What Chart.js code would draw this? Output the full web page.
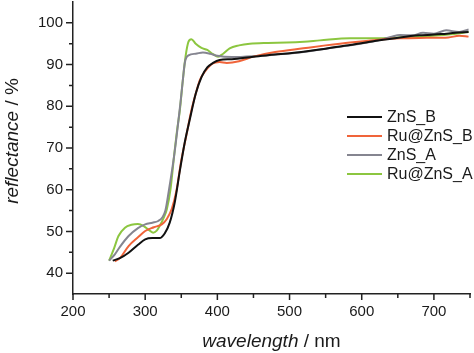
<!DOCTYPE html>
<html>
<head>
<meta charset="utf-8">
<title>reflectance</title>
<script src="https://cdn.jsdelivr.net/npm/chart.js@4/dist/chart.umd.min.js"></script>
<style>
  body { margin: 0; background: #fff; }
</style>
</head>
<body>
<canvas id="myChart" width="474" height="353"></canvas>
<script>
// series labels
const seriesNames = ['ZnS_B', 'Ru@ZnS_B', 'ZnS_A', 'Ru@ZnS_A'];

// ZnS_B
const znsBWl = [255, 265, 277, 290, 300, 310, 320, 327, 334, 341, 348, 355, 362, 370, 378, 386, 394, 403, 420, 450, 480, 519, 550, 584, 620, 653, 680, 710, 730, 748];
const znsBRefl = [43.0, 43.6, 44.9, 46.8, 48.1, 48.4, 48.4, 49.5, 52.1, 57.0, 64.5, 71.5, 77.0, 83.0, 87.0, 89.3, 90.4, 91.1, 91.3, 91.9, 92.4, 93.1, 93.8, 94.7, 95.7, 96.5, 97.0, 97.3, 97.6, 97.8];

// Ru@ZnS_B
const ruZnsBWl = [258, 265, 277, 290, 300, 312, 323, 330, 337, 343, 350, 357, 364, 370, 376, 384, 393, 403, 413, 430, 450, 480, 519, 550, 584, 620, 653, 690, 720, 735, 748];
const ruZnsBRefl = [42.8, 43.6, 46.5, 48.6, 50.1, 51.0, 51.7, 53.0, 55.5, 59.5, 67.0, 73.0, 79.0, 83.0, 86.4, 88.6, 90.2, 90.6, 90.4, 90.8, 91.9, 93.0, 93.9, 94.6, 95.3, 95.9, 96.3, 96.4, 96.5, 96.9, 96.7];

// ZnS_A
const znsAWl = [250, 258, 265, 277, 290, 300, 310, 318, 324, 328, 333, 340, 345, 349, 352, 355, 360, 370, 380, 390, 400, 420, 450, 480, 519, 550, 584, 620, 640, 653, 670, 685, 700, 717, 735, 748];
const znsARefl = [43.0, 44.5, 46.3, 48.9, 50.8, 51.7, 52.1, 52.5, 53.4, 55.0, 60.0, 68.0, 75.0, 81.0, 86.0, 90.5, 92.2, 92.6, 92.9, 92.6, 92.1, 91.8, 92.0, 92.4, 93.0, 93.8, 94.6, 95.7, 96.6, 97.1, 97.0, 97.6, 97.4, 98.2, 97.8, 98.4];

// Ru@ZnS_A
const ruZnsAWl = [250, 257, 263, 272, 281, 290, 298, 304, 311, 316, 320, 325, 330, 335, 340, 344, 348, 352, 356, 360, 364, 370, 378, 386, 394, 401, 408, 417, 430, 445, 470, 496, 520, 542, 584, 620, 653, 690, 720, 748];
const ruZnsARefl = [43.0, 46.0, 48.9, 50.9, 51.6, 51.8, 51.3, 50.5, 49.7, 50.2, 51.3, 53.0, 55.3, 60.0, 68.0, 74.0, 79.0, 86.0, 92.0, 95.5, 96.1, 95.0, 94.0, 93.5, 92.5, 91.9, 92.6, 93.9, 94.6, 95.0, 95.2, 95.3, 95.5, 95.8, 96.3, 96.3, 96.5, 96.8, 97.2, 97.8];

// axis ticks
const xTicks = [200, 300, 400, 500, 600, 700];
const yTicks = [40, 50, 60, 70, 80, 90, 100];

const colors = ['#111111', '#f0643a', '#858590', '#8cc640'];

function toPoints(wl, refl) {
  return wl.map((w, i) => ({ x: w, y: refl[i] }));
}

const seriesData = [
  toPoints(znsBWl, znsBRefl),
  toPoints(ruZnsBWl, ruZnsBRefl),
  toPoints(znsAWl, znsARefl),
  toPoints(ruZnsAWl, ruZnsARefl)
];

// tick marks (major + minor), legend and mixed-style axis titles
const decorPlugin = {
  id: 'decor',
  afterDraw(chart) {
    const ctx = chart.ctx;
    const x = chart.scales.x;
    const y = chart.scales.y;
    const area = chart.chartArea;
    ctx.save();
    ctx.strokeStyle = '#222';
    ctx.lineWidth = 1.5;
    ctx.beginPath();
    for (let v = 200; v <= 750; v += 50) {
      const px = x.getPixelForValue(v);
      const len = xTicks.includes(v) ? 6 : 4;
      ctx.moveTo(px, area.bottom);
      ctx.lineTo(px, area.bottom + len);
    }
    for (let v = 40; v <= 100; v += 5) {
      const py = y.getPixelForValue(v);
      const len = yTicks.includes(v) ? 7 : 4;
      ctx.moveTo(area.left, py);
      ctx.lineTo(area.left - len, py);
    }
    ctx.stroke();

    // legend
    ctx.font = '16px "Liberation Sans", Arial, sans-serif';
    ctx.textBaseline = 'middle';
    ctx.textAlign = 'left';
    chart.data.datasets.forEach((ds, i) => {
      const ly = 117 + i * 19;
      ctx.strokeStyle = ds.borderColor;
      ctx.lineWidth = 2.2;
      ctx.beginPath();
      ctx.moveTo(347, ly);
      ctx.lineTo(382, ly);
      ctx.stroke();
      ctx.fillStyle = '#1a1a1a';
      ctx.fillText(ds.label, 387, ly + 1);
    });

    // axis titles: italic quantity, upright unit
    ctx.fillStyle = '#1a1a1a';
    ctx.textBaseline = 'alphabetic';
    const italic = 'italic 19px "Liberation Sans", Arial, sans-serif';
    const upright = '19px "Liberation Sans", Arial, sans-serif';

    ctx.font = italic;
    const xa = ctx.measureText('wavelength').width;
    ctx.font = upright;
    const xb = ctx.measureText(' / nm').width;
    let sx = (area.left + area.right) / 2 - (xa + xb) / 2;
    ctx.font = italic;
    ctx.fillText('wavelength', sx, 347);
    ctx.font = upright;
    ctx.fillText(' / nm', sx + xa, 347);

    ctx.font = italic;
    const ya = ctx.measureText('reflectance').width;
    ctx.font = upright;
    const yb = ctx.measureText(' / %').width;
    ctx.translate(18, 141);
    ctx.rotate(-Math.PI / 2);
    sx = -(ya + yb) / 2;
    ctx.font = italic;
    ctx.fillText('reflectance', sx, 0);
    ctx.font = upright;
    ctx.fillText(' / %', sx + ya, 0);
    ctx.restore();
  }
};

const ctx = document.getElementById('myChart').getContext('2d');
const myChart = new Chart(ctx, {
  type: 'line',
  data: {
    datasets: seriesNames.map((name, i) => ({
      label: name,
      data: seriesData[i],
      borderColor: colors[i],
      borderWidth: 2,
      pointRadius: 0,
      fill: false,
      cubicInterpolationMode: 'monotone'
    }))
  },
  options: {
    responsive: false,
    animation: false,
    layout: { padding: { top: 2, right: 4, left: 0, bottom: 0 } },
    plugins: {
      legend: { display: false },
      tooltip: { enabled: false }
    },
    scales: {
      x: {
        type: 'linear',
        min: 200,
        max: 750,
        // fixed axis box, no extra label padding
        afterFit: s => { s.height = 59; s.paddingLeft = 0; s.paddingRight = 0; },
        afterBuildTicks: s => { s.ticks = xTicks.map(v => ({ value: v })); },
        grid: { display: true, drawOnChartArea: false, drawTicks: false },
        border: { display: true, color: '#222', width: 1.5 },
        ticks: {
          autoSkip: false,
          maxRotation: 0,
          padding: 9,
          color: '#1a1a1a',
          font: { family: '"Liberation Sans", Arial, sans-serif', size: 15 }
        }
      },
      y: {
        min: 35,
        max: 105,
        afterFit: s => { s.width = 73; s.paddingTop = 0; s.paddingBottom = 0; },
        afterBuildTicks: s => { s.ticks = yTicks.map(v => ({ value: v })); },
        grid: { display: true, drawOnChartArea: false, drawTicks: false },
        border: { display: true, color: '#222', width: 1.5 },
        ticks: {
          autoSkip: false,
          padding: 10,
          color: '#1a1a1a',
          font: { family: '"Liberation Sans", Arial, sans-serif', size: 15 }
        }
      }
    }
  },
  plugins: [decorPlugin]
});
</script>
</body>
</html>
